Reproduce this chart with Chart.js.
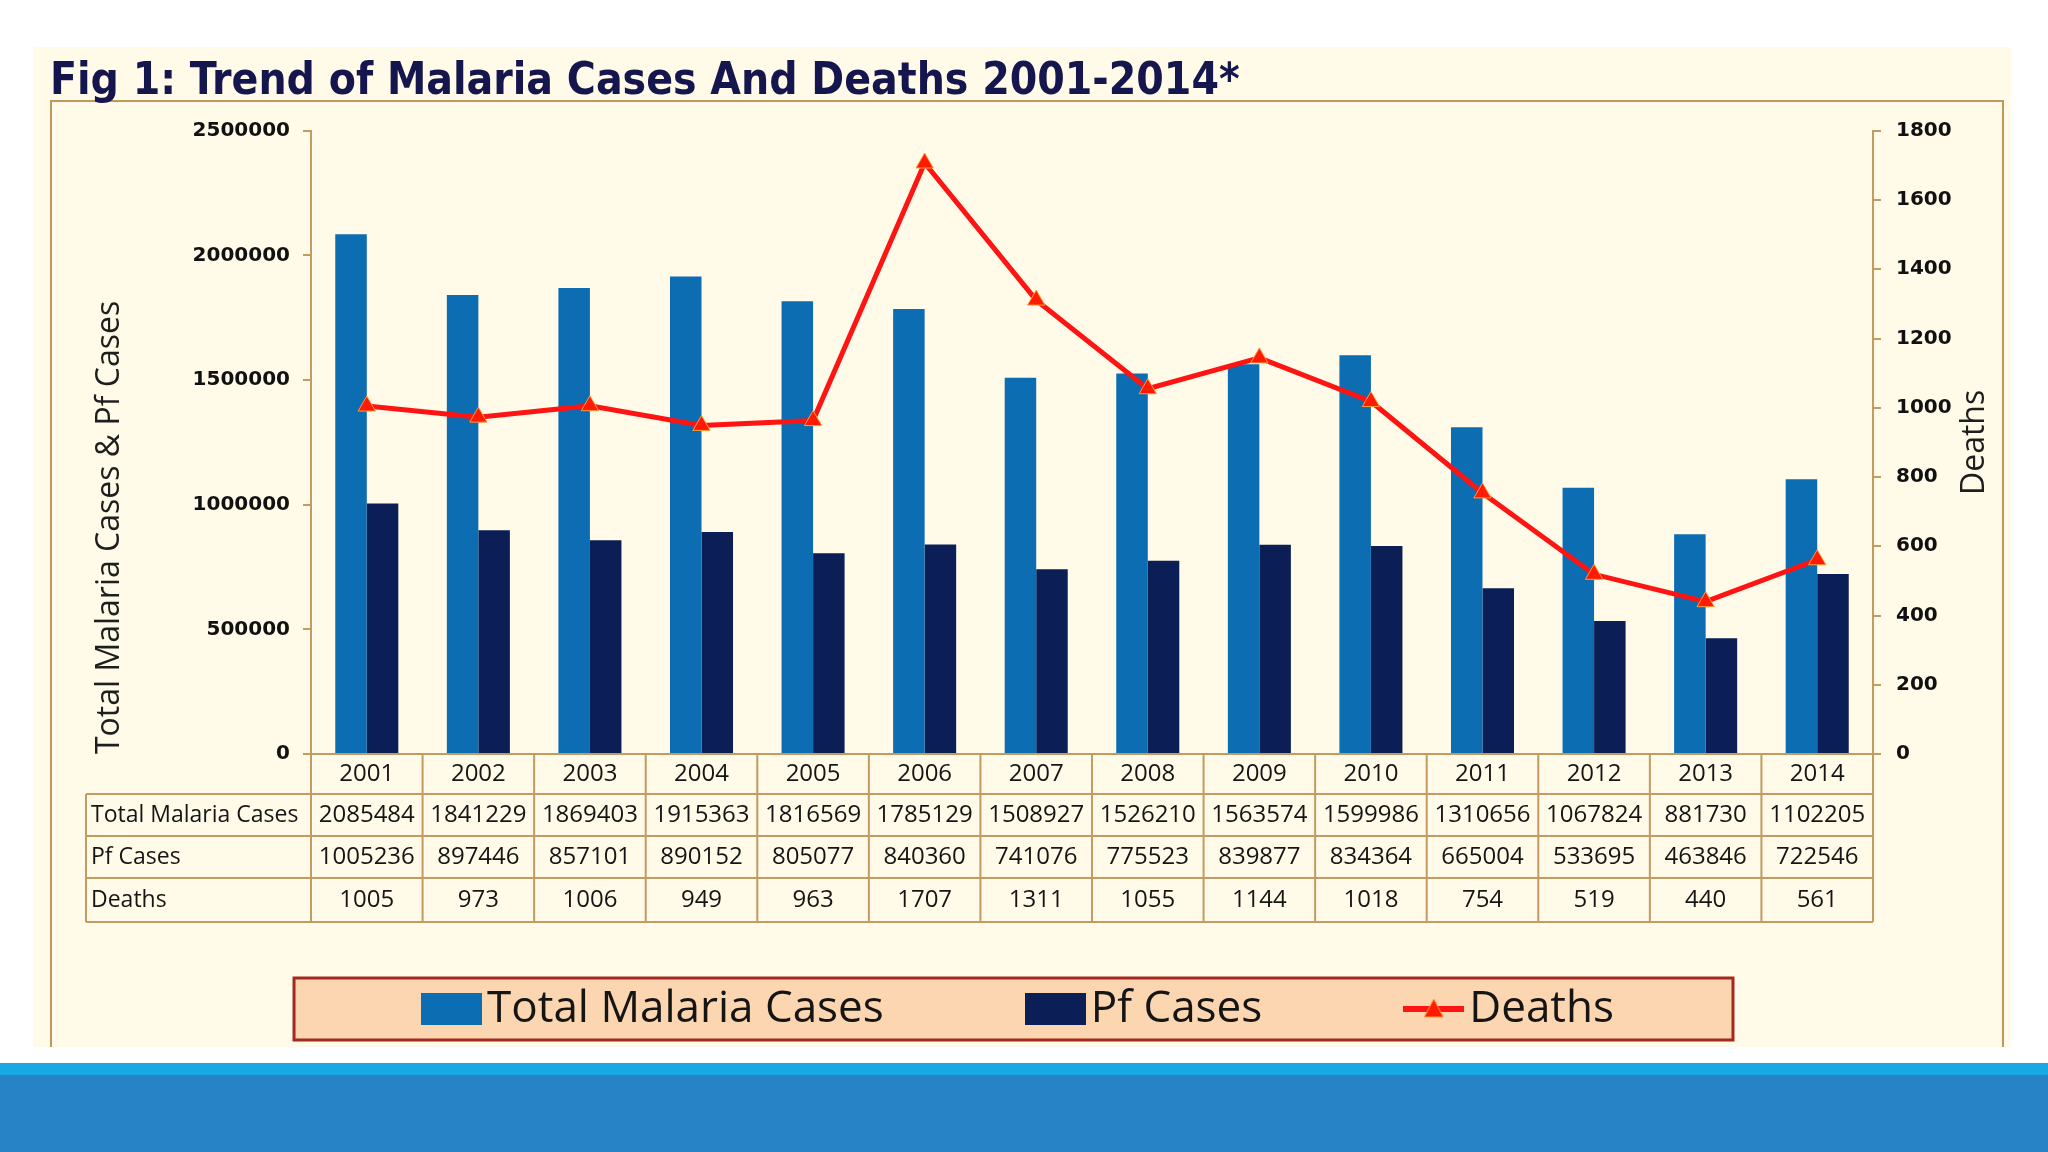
<!DOCTYPE html>
<html>
<head>
<meta charset="utf-8">
<title>Trend of Malaria Cases And Deaths 2001-2014</title>
<script src="https://cdn.jsdelivr.net/npm/chart.js@4.4.1/dist/chart.umd.min.js"></script>
<style>
    body { margin: 0; width: 2048px; height: 1152px; background: #fff; position: relative; overflow: hidden; }
    .panel { position: absolute; left: 33px; top: 47px; width: 1978px; height: 1000px; background: #fffbe8; overflow: hidden; }
    .frame { position: absolute; left: 17px; top: 53px; width: 1954px; height: 1100px; border: 2px solid #bf985e; box-sizing: border-box; }
    .strip { position: absolute; left: 0; top: 1063px; width: 2048px; height: 12px; background: #19a9e2; }
    .band { position: absolute; left: 0; top: 1075px; width: 2048px; height: 77px; background: #2883c6; }
    canvas { position: absolute; left: 0; top: 0; }
</style>
</head>
<body>
<div class="panel"><div class="frame"></div></div>
<div class="strip"></div>
<div class="band"></div>
<canvas id="malariaChart" width="2048" height="1152"></canvas>
<script>
// --- Data ---
const years = ['2001', '2002', '2003', '2004', '2005', '2006', '2007',
               '2008', '2009', '2010', '2011', '2012', '2013', '2014'];
const totalCases = [2085484, 1841229, 1869403, 1915363, 1816569, 1785129, 1508927,
                    1526210, 1563574, 1599986, 1310656, 1067824, 881730, 1102205];
const pfCases = [1005236, 897446, 857101, 890152, 805077, 840360, 741076,
                 775523, 839877, 834364, 665004, 533695, 463846, 722546];
const deaths = [1005, 973, 1006, 949, 963, 1707, 1311, 1055, 1144, 1018, 754, 519, 440, 561];
const caseTicks = [0, 500000, 1000000, 1500000, 2000000, 2500000];
const deathTicks = [0, 200, 400, 600, 800, 1000, 1200, 1400, 1600, 1800];
const rowLabels = ['Total Malaria Cases', 'Pf Cases', 'Deaths'];
const rowValues = [totalCases, pfCases, deaths];

// --- Colours ---
const TAN = '#c19b60';
const BLUE = '#0c6db3';
const NAVY = '#0b1e56';
const RED = '#ff1414';

// Legend icons (swatches drawn on small canvases)
function boxIcon(color) {
    const c = document.createElement('canvas');
    c.width = 61; c.height = 32;
    const g = c.getContext('2d');
    g.fillStyle = color;
    g.fillRect(0, 0, 61, 32);
    return c;
}
function lineIcon() {
    const c = document.createElement('canvas');
    c.width = 61; c.height = 32;
    const g = c.getContext('2d');
    g.fillStyle = RED;
    g.fillRect(0, 13, 61, 6);
    g.beginPath();
    g.moveTo(30.5, 6); g.lineTo(40, 24); g.lineTo(21, 24); g.closePath();
    g.fillStyle = '#ff1a00';
    g.fill();
    g.strokeStyle = '#ff9c3a';
    g.lineWidth = 1;
    g.stroke();
    return c;
}
const legendIcons = [boxIcon(BLUE), boxIcon(NAVY), lineIcon()];

// Legend background box + data table under the x axis
const tablePlugin = {
    id: 'dataTable',
    beforeDraw(chart) {
        const boxes = chart.legend && chart.legend.legendHitBoxes;
        if (!boxes || !boxes.length) return;
        const first = boxes[0];
        const last = boxes[boxes.length - 1];
        const cy = first.top + first.height / 2;
        const x0 = first.left - 144;
        const x1 = last.left + last.width + 119;
        const ctx = chart.ctx;
        ctx.save();
        ctx.fillStyle = '#fcd6b1';
        ctx.fillRect(x0, cy - 31, x1 - x0, 62);
        ctx.strokeStyle = '#a3291f';
        ctx.lineWidth = 3;
        ctx.strokeRect(x0, cy - 31, x1 - x0, 62);
        ctx.restore();
    },
    afterDraw(chart) {
        const ctx = chart.ctx;
        const x = chart.scales.x;
        const area = chart.chartArea;
        const step = x.getPixelForValue(1) - x.getPixelForValue(0);
        const colLeft = i => x.getPixelForValue(i) - step / 2;
        const b = area.bottom;
        const edges = [b, b + 40, b + 82, b + 124, b + 168];
        const tableLeft = 86;

        ctx.save();
        ctx.strokeStyle = TAN;
        ctx.lineWidth = 2;
        ctx.beginPath();
        for (let r = 1; r < edges.length; r++) {
            ctx.moveTo(tableLeft, edges[r]);
            ctx.lineTo(x.right, edges[r]);
        }
        for (let i = 0; i <= years.length; i++) {
            const px = colLeft(i);
            ctx.moveTo(px, edges[0]);
            ctx.lineTo(px, edges[4]);
        }
        ctx.moveTo(tableLeft, edges[1]);
        ctx.lineTo(tableLeft, edges[4]);
        ctx.stroke();

        ctx.fillStyle = '#151515';
        ctx.textBaseline = 'middle';
        rowLabels.forEach((label, r) => {
            const cy = (edges[r + 1] + edges[r + 2]) / 2;
            ctx.font = "23px 'Open Sans'";
            ctx.textAlign = 'left';
            ctx.fillText(label, tableLeft + 5, cy);
            ctx.font = "24px 'Open Sans'";
            ctx.textAlign = 'center';
            rowValues[r].forEach((v, i) => {
                ctx.fillText(String(v), x.getPixelForValue(i), cy);
            });
        });

        // right axis title, reading bottom to top like the left one
        ctx.font = "32px 'Open Sans'";
        ctx.fillStyle = '#1e1e1e';
        ctx.translate(1975, (area.top + area.bottom) / 2);
        ctx.rotate(-Math.PI / 2);
        ctx.textAlign = 'center';
        ctx.fillText('Deaths', 0, 0);
        ctx.restore();
    }
};

Chart.defaults.font.family = "'Open Sans', sans-serif";
Chart.defaults.color = '#151515';

const tickFont = { family: "'DejaVu Sans'", weight: 'bold', size: 20 };

new Chart(document.getElementById('malariaChart'), {
    data: {
        labels: years,
        datasets: [
            {
                type: 'bar',
                label: 'Total Malaria Cases',
                data: totalCases,
                backgroundColor: BLUE,
                yAxisID: 'y',
                order: 1,
                categoryPercentage: 0.565,
                barPercentage: 1
            },
            {
                type: 'bar',
                label: 'Pf Cases',
                data: pfCases,
                backgroundColor: NAVY,
                yAxisID: 'y',
                order: 1,
                categoryPercentage: 0.565,
                barPercentage: 1
            },
            {
                type: 'line',
                label: 'Deaths',
                data: deaths,
                borderColor: RED,
                borderWidth: 5,
                pointStyle: 'triangle',
                pointRadius: 10,
                pointBackgroundColor: '#ff1a00',
                pointBorderColor: '#ff9c3a',
                pointBorderWidth: 1,
                tension: 0,
                yAxisID: 'y1',
                order: 0
            }
        ]
    },
    options: {
        responsive: false,
        animation: false,
        devicePixelRatio: 1,
        layout: { padding: { left: 50, right: 46, top: 0, bottom: 111 } },
        plugins: {
            title: {
                display: true,
                text: 'Fig 1: Trend of Malaria Cases And Deaths 2001-2014*',
                align: 'start',
                color: '#15164d',
                font: { family: "'DejaVu Sans Condensed', 'DejaVu Sans'", weight: 'bold', size: 44 },
                padding: { top: 56, bottom: 22 }
            },
            legend: {
                position: 'bottom',
                labels: {
                    usePointStyle: true,
                    pointStyleWidth: 27,
                    padding: 158,
                    color: '#151515',
                    font: { size: 44 },
                    sort: (a, b) => a.datasetIndex - b.datasetIndex,
                    generateLabels(chart) {
                        const items = Chart.defaults.plugins.legend.labels.generateLabels(chart);
                        return items.map(item => Object.assign(item, { pointStyle: legendIcons[item.datasetIndex] }));
                    }
                }
            },
            tooltip: { enabled: false }
        },
        scales: {
            x: {
                offset: true,
                grid: { display: false, drawTicks: false },
                border: { color: TAN, width: 2 },
                ticks: { font: { size: 24 }, color: '#151515', padding: 6 },
                afterFit: s => { s.height = 75; }
            },
            y: {
                position: 'left',
                min: 0,
                max: 2500000,
                grid: { drawOnChartArea: false, color: TAN, tickLength: 8, lineWidth: 2 },
                border: { color: TAN, width: 2 },
                ticks: { font: tickFont, color: '#111', padding: 13, callback: v => String(v) },
                afterBuildTicks: s => { s.ticks = caseTicks.map(v => ({ value: v })); },
                title: {
                    display: true,
                    text: 'Total Malaria Cases & Pf Cases',
                    align: 'start',
                    color: '#1e1e1e',
                    font: { size: 32 },
                    padding: { top: 41, bottom: 0 }
                },
                afterFit: s => { s.width = 261; }
            },
            y1: {
                position: 'right',
                min: 0,
                max: 1800,
                grid: { drawOnChartArea: false, color: TAN, tickLength: 8, lineWidth: 2 },
                border: { color: TAN, width: 2 },
                ticks: { font: tickFont, color: '#111', padding: 15, callback: v => String(v) },
                afterBuildTicks: s => { s.ticks = deathTicks.map(v => ({ value: v })); },
                afterFit: s => { s.width = 129; }
            }
        }
    },
    plugins: [tablePlugin]
});
</script>
</body>
</html>
